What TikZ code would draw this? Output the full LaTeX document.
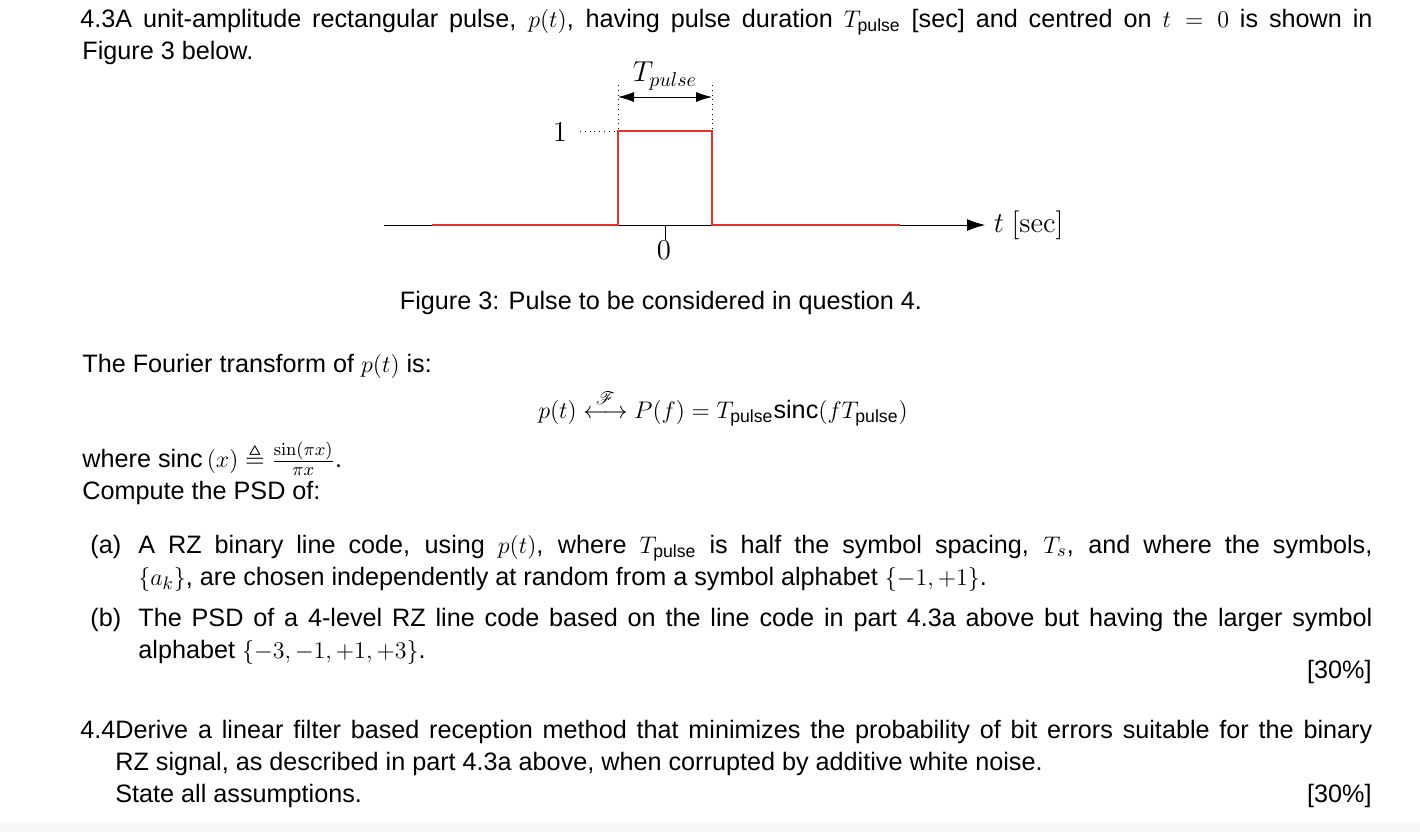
\documentclass[tikz,border=0pt]{standalone}
\usepackage{amsmath,amssymb,mathrsfs}
\usepackage[no-math]{fontspec}
\setmainfont{Liberation Sans}
\setsansfont{Liberation Sans}
\usetikzlibrary{arrows.meta}
\newcommand{\fl}[2]{\hbox to #1{#2}}
\newcommand{\Tp}{T_{\text{pulse}}}
\definecolor{pulsered}{RGB}{230,50,40}
\tikzset{txt/.style={anchor=base west,inner sep=0pt,font=\fontsize{12.6}{15}\selectfont},
 txr/.style={anchor=base east,inner sep=0pt,font=\fontsize{12.6}{15}\selectfont},
 txc/.style={anchor=base,inner sep=0pt,font=\fontsize{12.6}{15}\selectfont}}
\begin{document}
\begin{tikzpicture}[x=0.5pt,y=-0.5pt]
\useasboundingbox (0,0) rectangle (1420,832);
\fill[black!3] (0,822) rectangle (1420,832);
\node[txt] (n43) at (80,27) {4.3};
\node[txt] (l1) at (115,27) {\fl{628.5pt}{A unit-amplitude rectangular pulse, $p(t)$, having pulse duration $\Tp$ [sec] and centred on $t=0$ is shown in}};
\node[txt] (l2) at (82,59) {Figure 3 below.};
\coordinate (ax0) at (384,225);
\coordinate (ax1) at (985,225);
\draw[-{Latex[length=9pt,width=6pt]}] (ax0) -- (ax1);
\node[anchor=west,inner sep=2pt,font=\fontsize{13.5}{15}\selectfont] (tl) at (ax1) {\,$t\ [\mathrm{sec}]$};
\draw[pulsered,line width=1.2pt] (432,225) -- (618,225) -- (618,131) -- (712,131) -- (712,225) -- (900,225);
\draw (665,225) -- (665,240);
\node[font=\fontsize{13.5}{15}\selectfont,inner sep=0pt] (z) at (664,250) {$0$};
\node[font=\fontsize{13.5}{15}\selectfont,inner sep=0pt] (one) at (560,132) {$1$};
\draw[dotted] (580,131) -- (618,131);
\draw[dotted] (618,85) -- (618,131);
\draw[dotted] (712,85) -- (712,131);
\coordinate (a1) at (618,97); \coordinate (a2) at (712,97);
\draw[{Latex[length=8pt,width=5pt]}-{Latex[length=8pt,width=5pt]}] (a1) -- (a2);
\node[font=\fontsize{14.5}{15}\selectfont,inner sep=0pt] (tp) at (665,76) {$T_{pulse}$};
\node[txc] (cap) at (661,309) {Figure 3: Pulse to be considered in question 4.};
\node[txt] (ft) at (82,372) {The Fourier transform of $p(t)$ is:};
\node[txc] (eq) at (723,418) {$p(t)\overset{\mathscr{F}}{\longleftrightarrow}P(f)=\Tp\text{sinc}(f\Tp)$};
\node[txt] (wh) at (82,467) {where sinc$\,(x)\triangleq\frac{\sin(\pi x)}{\pi x}$.};
\node[txt] (cp) at (82,499) {Compute the PSD of:};
\node[txt] (la) at (90,553) {(a)};
\node[txt] (a1t) at (138,553) {\fl{617pt}{A RZ binary line code, using $p(t)$, where $\Tp$ is half the symbol spacing, $T_s$, and where the symbols,}};
\node[txt] (a2t) at (138,585) {$\{a_k\}$, are chosen independently at random from a symbol alphabet $\{-1,+1\}$.};
\node[txt] (lb) at (90,626) {(b)};
\node[txt] (b1t) at (138,626) {\fl{617pt}{The PSD of a 4-level RZ line code based on the line code in part 4.3a above but having the larger symbol}};
\node[txt] (b2t) at (138,658) {alphabet $\{-3,-1,+1,+3\}$.};
\node[txr] (p1) at (1372,678) {[30\%]};
\node[txt] (n44) at (80,738) {4.4};
\node[txt] (c1) at (115,738) {\fl{628.5pt}{Derive a linear filter based reception method that minimizes the probability of bit errors suitable for the binary}};
\node[txt] (c2) at (115,770) {RZ signal, as described in part 4.3a above, when corrupted by additive white noise.};
\node[txt] (c3) at (115,802) {State all assumptions.};
\node[txr] (p2) at (1372,802) {[30\%]};
\end{tikzpicture}
\end{document}
